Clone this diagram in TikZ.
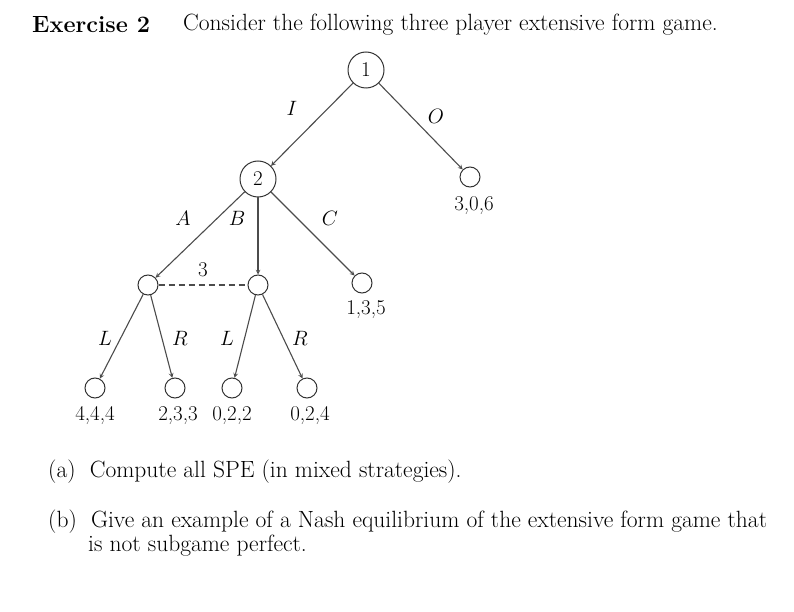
\documentclass[tikz,border=0pt]{standalone}
\begin{document}
\begin{tikzpicture}[x=1pt,y=-1pt,
  big/.style={circle,draw=black!80,line width=1pt,minimum size=36pt,inner sep=0pt,font=\fontsize{21}{24}\selectfont},
  small/.style={circle,draw=black!80,line width=1pt,minimum size=20pt,inner sep=0pt},
  edge/.style={draw=black!70,line width=1.1pt,-stealth},
  lab/.style={font=\fontsize{21}{24}\selectfont},
  txt/.style={font=\fontsize{23.5}{28}\selectfont,anchor=west,inner sep=0pt}]
\useasboundingbox (0,0) rectangle (794,612);
\node[txt,font=\fontsize{23.5}{28}\selectfont\bfseries] (ex) at (32,25) {Exercise 2};
\node[txt] (cons) at (183,25) {Consider the following three player extensive form game.};
\node[big] (n1) at (366,70) {1};
\node[big] (n2) at (258,179) {2};
\node[small] (o) at (470,177) {};
\node[small] (c) at (362,283) {};
\node[small] (a) at (148,285) {};
\node[small] (b) at (258,285) {};
\node[small] (l1) at (95,388) {};
\node[small] (l2) at (175,388) {};
\node[small] (l3) at (232,388) {};
\node[small] (l4) at (307,388) {};
\draw[edge] (n1) -- (n2);
\draw[edge] (n1) -- (o);
\draw[edge] (n2) -- (a);
\draw[edge] (n2) -- (b);
\draw[edge] (n2) -- (c);
\draw[edge] (a) -- (l1);
\draw[edge] (a) -- (l2);
\draw[edge] (b) -- (l3);
\draw[edge] (b) -- (l4);
\draw[dash pattern=on 6pt off 4pt,draw=black!70,line width=1.1pt] (a) -- (b);
\node[lab] (li) at (292,108) {$I$};
\node[lab] (lo) at (436,116) {$O$};
\node[lab] (la) at (183,218) {$A$};
\node[lab] (lb) at (237,218) {$B$};
\node[lab] (lc) at (330,218) {$C$};
\node[lab] (l3l) at (203,270) {3};
\node[lab] (lL1) at (105,338) {$L$};
\node[lab] (lR1) at (180,338) {$R$};
\node[lab] (lL2) at (227,338) {$L$};
\node[lab] (lR2) at (300,338) {$R$};
\node[lab] (p0) at (474,206) {3,0,6};
\node[lab] (pc) at (366,310) {1,3,5};
\node[lab] (p1) at (95,416) {4,4,4};
\node[lab] (p2) at (178,416) {2,3,3};
\node[lab] (p3) at (232,416) {0,2,2};
\node[lab] (p4) at (310,416) {0,2,4};
\node[txt] (qa) at (48,472) {(a)\ \ Compute all SPE (in mixed strategies).};
\node[txt] (qb) at (48,522) {(b)\ \ Give an example of a Nash equilibrium of the extensive form game that};
\node[txt] (qb2) at (88,546) {is not subgame perfect.};
\end{tikzpicture}
\end{document}
